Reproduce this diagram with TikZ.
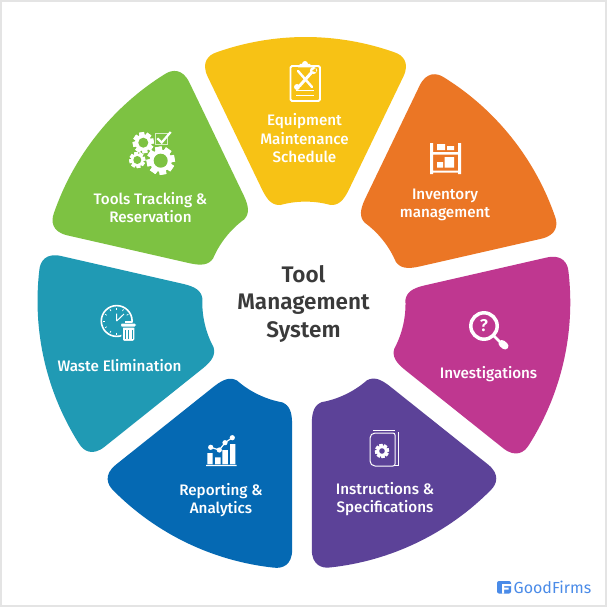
\documentclass[tikz,border=0pt]{standalone}
\usepackage{fontspec}
\setmainfont{Fira Sans Medium}
\newfontfamily\titlefont{Fira Sans SemiBold}
\newfontfamily\firmfont{Fira Sans}
\definecolor{petalyellow}{HTML}{F7C215}
\definecolor{petalgreen}{HTML}{7DC242}
\definecolor{petalorange}{HTML}{EB7625}
\definecolor{petalpink}{HTML}{BF3790}
\definecolor{petalpurple}{HTML}{5C4298}
\definecolor{petalblue}{HTML}{0569B3}
\definecolor{petalteal}{HTML}{209AB4}
\definecolor{titlegray}{HTML}{3A3A3A}
\definecolor{framegray}{HTML}{E4E4E4}
\definecolor{firmblue}{HTML}{4A8BE8}
% one petal, axis straight up, centre of the wheel at the origin
\newcommand{\petalpath}{(109.6:266) arc[start angle=109.6,end angle=70.4,radius=266pt]
 .. controls (97,248) and (104.7,240.7) .. (97.8,226.3) -- (43.2,113)
 .. controls (38,102.5) and (33,97.5) .. (25,98)
 .. controls (9,102.5) and (-9,102.5) .. (-25,98)
 .. controls (-33,97.5) and (-38,102.5) .. (-43.2,113) -- (-97.8,226.3)
 .. controls (-104.7,240.7) and (-97,248) .. cycle}
% gear: x, y, radius, hole, colour behind
\newcommand{\gearicon}[5]{
\foreach \t in {0,45,...,315}
 \fill[white,shift={(#1,#2)},rotate=\t+10] (-.24*#3,-#3) rectangle (.24*#3,#3);
\fill[white] (#1,#2) circle (.8*#3);
\fill[#5] (#1,#2) circle (#4);
}
\begin{document}
\begin{tikzpicture}[x=1pt,y=-1pt,
line cap=butt,
petallabel/.style={text=white,align=center,font=\fontsize{15.2}{18.5}\selectfont},
titlelabel/.style={text=titlegray,align=center,font=\titlefont\fontsize{22.5}{27.5}\selectfont},
iconline/.style={draw=white,line width=1.8pt}]
\useasboundingbox (0,0) rectangle (607,607);
\fill[white] (0,0) rectangle (607,607);
\draw[framegray,line width=2pt] (1,1) rectangle (606,606);

\foreach \ang/\cx/\cy/\col in {0/305.5/303/petalyellow,
 51.43/305.3/300/petalgreen,
 102.86/303.5/301/petalteal,
 154.29/302.2/303.2/petalblue,
 -154.29/301.7/303/petalpurple,
 -102.86/304.3/302.5/petalpink,
 -51.43/303.6/303.3/petalorange}
{
\begin{scope}[shift={(\cx,\cy)},y=1pt,rotate=\ang]
\fill[\col] \petalpath;
\end{scope}
}

\node[titlelabel] (title) at (303.5,303.5) {Tool\\Management\\System};
\node[petallabel] (equipment) at (304.5,138.5) {Equipment\\Maintenance\\Schedule};
\node[petallabel] (tracking) at (150.5,207.5) {Tools Tracking \&\\Reservation};
\node[petallabel] (inventory) at (445,205) {Inventory\\management};
\node[petallabel] (investigations) at (488.5,374) {Investigations};
\node[petallabel] (instructions) at (385,499) {Instructions \&\\Specifications};
\node[petallabel] (reporting) at (221,500) {Reporting \&\\Analytics};
\node[petallabel] (waste) at (119.5,366) {Waste Elimination};

% clipboard
\draw[iconline,rounded corners=1.5pt] (290.5,66) rectangle (320,101);
\fill[white] (298,67.5) -- (300,64) -- (302,64) arc[start angle=180,end angle=0,radius=3pt] -- (310,64) -- (312,67.5) -- cycle;
\draw[white,line width=2.4pt,line cap=round] (298,71) -- (312,87);
\draw[white,line width=3pt,line cap=round] (312,72) -- (299.5,86);
\fill[white] (297,87) circle (3pt);
\fill[white] (313.5,70.5) circle (3.6pt);
\fill[petalyellow] (315.5,68) -- (316.5,72.5) -- (312,71) -- cycle;
\draw[white,line width=1.8pt] (296,90.5) -- (314,90.5) (296,95.5) -- (314,95.5);

% shelves
\fill[white] (430,143) rectangle (433,174) (458,143) rectangle (461,174)
 (430,152) rectangle (461,154.5) (430,170.5) rectangle (461,172.5);
\fill[white] (437,144) rectangle (445,150) (447,146) rectangle (454,150)
 (437,162) rectangle (443,167.5) (444.5,157) rectangle (454,167.5);

% gears with check box
\gearicon{160.7}{160.7}{14}{7}{petalgreen}
\gearicon{143.3}{142.7}{10.5}{5}{petalgreen}
\gearicon{137.3}{160}{8}{4}{petalgreen}
\draw[white!70!petalgreen,line width=.8pt] (155.7,133.5) rectangle (167.7,144.5);
\draw[white,line width=2.2pt] (157.3,138.3) -- (161.7,142.5) -- (170.7,132);

% magnifier
\draw[white,line width=3.5pt] (484,326) circle (13.2pt);
\draw[white,line width=2.6pt] (494,336) -- (501,343);
\draw[white,line width=7pt,line cap=round] (502,343.5) -- (505,346);
\node[text=white,inner sep=0pt,font=\titlefont\fontsize{17}{17}\selectfont] (question) at (484,326) {?};

% book
\draw[white,line width=1pt,rounded corners=2pt] (373,430) -- (395,430);
\draw[white,line width=1pt,rounded corners=2pt] (395,466) -- (373,466) -- (370,463) -- (370,436) -- (373,433) -- (395,433) -- cycle;
\draw[white,line width=1pt] (398.8,432) -- (398.8,465.5) -- (395,465.5);
\gearicon{382}{451}{7}{2.8}{petalpurple}

% chart
\fill[white] (206,464.8) rectangle (236.7,466)
 (207.3,453) rectangle (212.7,464) (215,457.3) rectangle (220.7,464)
 (222.3,450) rectangle (227.8,464) (230,444) rectangle (235.3,464);
\draw[white,line width=1.2pt] (210.7,447.3) -- (219.3,450) -- (225,442.7) -- (232.3,437.7);
\foreach \dotx/\doty in {210.7/447.3,219.3/450,225/442.7,232.3/437.7}
 \fill[white] (\dotx,\doty) circle (2.6pt);

% clock with bin
\draw[white,line width=1.6pt] (116.7,321) circle (15.4pt);
\draw[white,line width=1pt] (116.7,321) -- (116.7,313.5) (116.7,321) -- (124,314);
\foreach \t in {0,30,...,330}
 \draw[white,line width=.7pt,shift={(116.7,321)},rotate=\t] (0,11.5) -- (0,13.5);
\fill[white,draw=petalteal,line width=1.5pt,rounded corners=1.5pt] (122,326) rectangle (135,341.5);
\fill[white,rounded corners=1pt,draw=petalteal,line width=1pt] (120.5,323) rectangle (136,327);
\fill[white] (125,321) rectangle (131.5,323);
\draw[petalteal,line width=1pt] (125,330) -- (125,338.5) (128.5,330) -- (128.5,338.5) (132,330) -- (132,338.5);

% logo
\fill[firmblue,rounded corners=2pt] (497,581) rectangle (511,593.5);
\fill[white] (502,584) rectangle (511,586) (502,587.5) rectangle (508.5,589.5) (502,584) rectangle (504,593.5);
\node[text=firmblue,anchor=west,inner sep=0pt,font=\firmfont\fontsize{16}{16}\selectfont] (firm) at (513.5,587) {GoodFirms};
\end{tikzpicture}
\end{document}
